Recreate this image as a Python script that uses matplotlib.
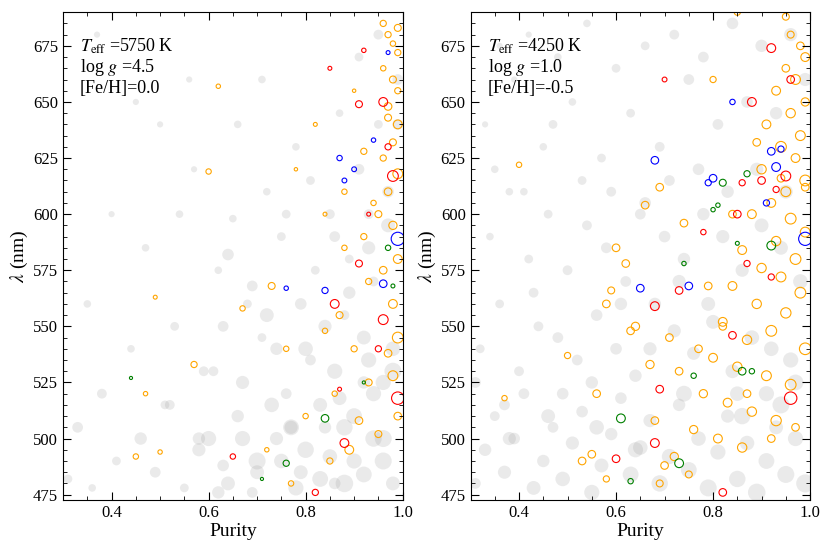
import matplotlib.pyplot as plt

plt.rcParams['font.family'] = ['Liberation Serif', 'DejaVu Serif']
plt.rcParams['mathtext.fontset'] = 'stix'

XLIM = (0.3, 1.0)
YLIM = (472.5, 690)
LABELS = [r'$T_{\rm eff}$ =5750 K' + '\n' + r'log $g$ =4.5' + '\n' + '[Fe/H]=0.0',
          r'$T_{\rm eff}$ =4250 K' + '\n' + r'log $g$ =1.0' + '\n' + '[Fe/H]=-0.5']

# background (gray) lines: purity, wavelength, marker size
gray1_x = [0.31, 0.33, 0.36, 0.38, 0.41, 0.44, 0.46, 0.49, 0.52, 0.55, 0.58, 0.61, 0.63, 0.66, 0.69, 0.71,
           0.74, 0.76, 0.79, 0.81, 0.84, 0.86, 0.88, 0.90, 0.92, 0.94, 0.96, 0.98, 0.35, 0.40, 0.47, 0.53,
           0.57, 0.62, 0.65, 0.68, 0.72, 0.75, 0.78, 0.82, 0.85, 0.87, 0.89, 0.91, 0.93, 0.95, 0.97, 0.99,
           0.60, 0.64, 0.67, 0.70, 0.73, 0.77, 0.80, 0.83, 0.86, 0.88, 0.90, 0.92, 0.94, 0.96, 0.98, 0.43,
           0.50, 0.56, 0.59, 0.63, 0.69, 0.74, 0.79, 0.84, 0.89, 0.93, 0.97, 0.37, 0.45, 0.54, 0.66, 0.71,
           0.76, 0.81, 0.86, 0.91, 0.95, 0.99, 0.62, 0.70, 0.78, 0.85, 0.92, 0.96, 0.58, 0.67, 0.75, 0.83,
           0.88, 0.94, 0.98, 0.72, 0.80, 0.87, 0.93, 0.51, 0.64, 0.77]
gray1_y = [482, 505, 478, 520, 490, 540, 500, 485, 515, 478, 495, 530, 488, 510, 476, 545,
           500, 520, 485, 535, 505, 480, 555, 490, 525, 570, 500, 480, 560, 600, 585, 550,
           620, 575, 598, 560, 610, 590, 630, 575, 600, 645, 580, 620, 600, 640, 610, 660,
           500, 480, 525, 490, 515, 505, 495, 515, 530, 480, 510, 545, 500, 525, 540, 470,
           640, 660, 530, 550, 568, 540, 560, 550, 565, 585, 595, 680, 650, 600, 640, 660,
           600, 615, 590, 670, 680, 640, 476, 485, 478, 492, 484, 490, 500, 500, 490, 482,
           505, 520, 530, 555, 540, 518, 535, 515, 582, 505]
gray1_s = [40, 60, 30, 50, 40, 30, 80, 60, 50, 40, 90, 50, 70, 80, 60, 40,
           90, 60, 100, 60, 80, 70, 50, 120, 80, 50, 150, 100, 30, 20, 30, 40,
           20, 30, 30, 40, 30, 40, 30, 40, 50, 30, 40, 60, 50, 40, 70, 60,
           120, 100, 90, 150, 110, 130, 140, 100, 120, 160, 130, 100, 140, 120, 110, 30,
           20, 20, 50, 60, 60, 80, 70, 90, 80, 90, 100, 20, 20, 30, 30, 30,
           40, 40, 60, 40, 50, 60, 80, 100, 120, 110, 130, 150, 80, 120, 110, 130,
           140, 120, 150, 100, 110, 100, 120, 40, 70, 90]

gray2_x = [0.31, 0.33, 0.35, 0.37, 0.39, 0.41, 0.43, 0.45, 0.47, 0.49, 0.51, 0.53, 0.55, 0.57, 0.59, 0.61,
           0.63, 0.65, 0.67, 0.69, 0.71, 0.73, 0.75, 0.77, 0.79, 0.81, 0.83, 0.85, 0.87, 0.89, 0.91, 0.93,
           0.95, 0.97, 0.99, 0.32, 0.36, 0.40, 0.44, 0.48, 0.52, 0.56, 0.60, 0.64, 0.68, 0.72, 0.76, 0.80,
           0.84, 0.88, 0.92, 0.96, 0.34, 0.38, 0.42, 0.46, 0.50, 0.54, 0.58, 0.62, 0.66, 0.70, 0.74, 0.78,
           0.82, 0.86, 0.90, 0.94, 0.98, 0.33, 0.39, 0.45, 0.51, 0.57, 0.63, 0.69, 0.75, 0.81, 0.87, 0.93,
           0.99, 0.36, 0.42, 0.48, 0.54, 0.60, 0.66, 0.72, 0.78, 0.84, 0.90, 0.96, 0.31, 0.37, 0.43, 0.49,
           0.55, 0.61, 0.67, 0.73, 0.79, 0.85, 0.91, 0.97, 0.35, 0.41, 0.47, 0.53, 0.59, 0.65, 0.71, 0.77,
           0.83, 0.89, 0.95, 0.38, 0.46, 0.56, 0.64, 0.74, 0.86, 0.94]
gray2_y = [480, 495, 510, 485, 500, 520, 478, 490, 505, 482, 498, 512, 476, 488, 502, 518,
           484, 496, 508, 480, 492, 515, 486, 500, 478, 494, 510, 482, 498, 476, 490, 505,
           484, 500, 480, 540, 560, 530, 550, 545, 535, 555, 540, 528, 560, 548, 538, 552,
           530, 545, 540, 535, 590, 610, 580, 600, 575, 595, 585, 570, 605, 590, 580, 600,
           590, 575, 595, 585, 570, 640, 660, 630, 650, 625, 645, 630, 660, 640, 650, 645,
           660, 675, 680, 670, 685, 665, 675, 680, 670, 685, 675, 680, 525, 515, 565, 520,
           525, 560, 540, 570, 560, 520, 520, 525, 620, 610, 640, 615, 610, 600, 615, 620,
           610, 620, 610, 500, 510, 505, 495, 520, 510, 515]
gray2_s = [60, 80, 50, 90, 70, 60, 100, 80, 60, 110, 90, 70, 120, 100, 80, 70,
           130, 110, 90, 140, 120, 80, 130, 110, 150, 120, 90, 140, 110, 160, 130, 100,
           150, 120, 170, 40, 40, 50, 50, 60, 60, 70, 70, 80, 80, 90, 90, 100,
           100, 110, 110, 120, 30, 30, 40, 40, 50, 50, 60, 60, 70, 70, 80, 80,
           90, 90, 100, 100, 110, 20, 20, 30, 30, 40, 40, 50, 60, 60, 70, 80,
           90, 20, 20, 30, 30, 40, 40, 50, 60, 70, 80, 90, 60, 60, 50, 70,
           80, 80, 90, 90, 100, 110, 120, 130, 30, 30, 40, 40, 50, 60, 60, 70,
           80, 90, 100, 90, 100, 110, 120, 130, 140, 150]

# highlighted lines per colour: purity, wavelength, marker size
orange1_x = [0.97, 0.98, 0.99, 0.96, 0.98, 0.99, 0.97, 0.99, 0.98, 0.96, 0.99, 0.97, 0.95, 0.98, 0.92, 0.88,
             0.99, 0.96, 0.93, 0.98, 0.87, 0.99, 0.97, 0.90, 0.84, 0.98, 0.93, 0.86, 0.99, 0.91, 0.95, 0.89,
             0.85, 0.77, 0.76, 0.73, 0.67, 0.57, 0.47, 0.45, 0.50, 0.60, 0.62, 0.49, 0.80, 0.72, 0.88, 0.78,
             0.84, 0.82, 0.90, 0.96, 0.99, 0.94, 0.97, 0.92]
orange1_y = [680, 676, 672, 665, 660, 655, 648, 640, 632, 625, 618, 610, 600, 595, 590, 585,
             580, 575, 570, 560, 555, 545, 538, 540, 548, 528, 525, 520, 510, 508, 502, 495,
             490, 480, 540, 568, 558, 533, 520, 492, 494, 619, 657, 563, 510, 495, 610, 620,
             600, 640, 655, 685, 683, 605, 643, 628]
orange1_s = [20, 15, 20, 15, 25, 20, 30, 40, 25, 20, 50, 30, 25, 35, 20, 15,
             40, 30, 20, 40, 25, 60, 30, 20, 15, 50, 25, 15, 30, 30, 25, 40,
             20, 15, 15, 25, 15, 20, 10, 15, 10, 15, 10, 8, 15, 10, 15, 6,
             8, 8, 6, 20, 25, 15, 25, 20]
red1_x = [0.91, 0.96, 0.98, 0.92, 0.86, 0.96, 0.99, 0.88, 0.82, 0.65, 0.91, 0.95, 0.87, 0.93, 0.85, 0.97]
red1_y = [649, 650, 617, 673, 560, 553, 518, 498, 476, 492, 578, 540, 522, 600, 665, 630]
red1_s = [25, 40, 60, 10, 40, 50, 80, 40, 20, 15, 25, 20, 8, 8, 8, 20]
blue1_x = [0.99, 0.96, 0.84, 0.76, 0.87, 0.90, 0.94, 0.97, 0.88]
blue1_y = [589, 569, 566, 567, 625, 620, 633, 672, 615]
blue1_s = [90, 30, 20, 10, 15, 12, 10, 8, 12]
green1_x = [0.84, 0.76, 0.97, 0.44, 0.92, 0.71, 0.98]
green1_y = [509, 489, 585, 527, 525, 482, 568]
green1_s = [30, 20, 15, 5, 5, 5, 8]

orange2_x = [0.96, 0.98, 0.99, 0.95, 0.97, 0.93, 0.99, 0.96, 0.91, 0.98, 0.94, 0.97, 0.90, 0.99, 0.95, 0.92,
             0.88, 0.96, 0.99, 0.93, 0.86, 0.97, 0.90, 0.94, 0.84, 0.98, 0.89, 0.95, 0.82, 0.92, 0.87, 0.99,
             0.80, 0.85, 0.91, 0.96, 0.78, 0.83, 0.88, 0.93, 0.76, 0.81, 0.86, 0.72, 0.70, 0.67, 0.64, 0.62,
             0.60, 0.58, 0.56, 0.55, 0.53, 0.66, 0.69, 0.74, 0.79, 0.84, 0.89, 0.94, 0.99, 0.71, 0.77, 0.82,
             0.87, 0.92, 0.97, 0.40, 0.37, 0.50, 0.59, 0.63, 0.68, 0.73, 0.58, 0.69, 0.75, 0.80, 0.85, 0.95]
orange2_y = [680, 675, 670, 665, 660, 655, 650, 645, 640, 635, 630, 625, 620, 615, 610, 605,
             600, 598, 592, 588, 584, 580, 576, 572, 568, 565, 560, 556, 552, 548, 544, 540,
             536, 532, 528, 524, 520, 516, 512, 508, 504, 500, 496, 492, 488, 533, 550, 578,
             585, 560, 520, 493, 490, 604, 612, 596, 568, 600, 632, 616, 612, 545, 540, 550,
             520, 500, 505, 622, 518, 537, 566, 548, 508, 530, 482, 480, 484, 660, 690, 688]
orange2_s = [25, 30, 40, 30, 50, 40, 35, 45, 40, 50, 60, 40, 45, 60, 50, 40,
             40, 60, 50, 45, 40, 60, 45, 50, 40, 60, 45, 55, 40, 60, 45, 70,
             40, 45, 50, 60, 35, 40, 45, 55, 35, 40, 45, 35, 30, 35, 35, 30,
             30, 30, 30, 30, 30, 30, 30, 30, 30, 30, 30, 30, 30, 30, 30, 30,
             30, 30, 30, 15, 15, 20, 25, 30, 30, 30, 20, 25, 25, 20, 20, 25]
red2_x = [0.92, 0.96, 0.88, 0.95, 0.90, 0.85, 0.87, 0.92, 0.68, 0.84, 0.73, 0.69, 0.60, 0.68, 0.82, 0.96, 0.78, 0.70, 0.93, 0.86]
red2_y = [674, 660, 650, 617, 615, 600, 578, 572, 559, 546, 566, 522, 491, 498, 476, 518, 592, 660, 611, 614]
red2_s = [40, 30, 40, 50, 30, 30, 20, 20, 40, 30, 30, 30, 30, 40, 30, 80, 15, 12, 20, 20]
blue2_x = [0.99, 0.93, 0.92, 0.80, 0.79, 0.68, 0.65, 0.75, 0.84, 0.91, 0.94]
blue2_y = [589, 621, 628, 616, 614, 624, 567, 568, 650, 605, 629]
blue2_s = [90, 40, 30, 30, 20, 30, 30, 30, 15, 20, 20]
green2_x = [0.92, 0.86, 0.61, 0.73, 0.82, 0.87, 0.76, 0.88, 0.80, 0.81, 0.74, 0.63, 0.85]
green2_y = [586, 530, 509, 489, 614, 618, 528, 530, 602, 604, 578, 481, 587]
green2_s = [40, 30, 40, 40, 25, 20, 15, 15, 10, 10, 10, 15, 8]

PANELS = [
    (gray1_x, gray1_y, gray1_s,
     [(orange1_x, orange1_y, orange1_s, 'orange'), (red1_x, red1_y, red1_s, 'red'),
      (blue1_x, blue1_y, blue1_s, 'blue'), (green1_x, green1_y, green1_s, 'green')]),
    (gray2_x, gray2_y, gray2_s,
     [(orange2_x, orange2_y, orange2_s, 'orange'), (red2_x, red2_y, red2_s, 'red'),
      (blue2_x, blue2_y, blue2_s, 'blue'), (green2_x, green2_y, green2_s, 'green')]),
]

fig, axes = plt.subplots(1, 2, figsize=(8.3, 5.54), dpi=100)
fig.subplots_adjust(left=0.076, right=0.976, top=0.978, bottom=0.097, wspace=0.2)

for ax, (gx, gy, gs, groups), label in zip(axes, PANELS, LABELS):
    ax.scatter(gx, gy, s=gs, color='0.6', alpha=0.2, edgecolors='none')
    for x, y, s, c in groups:
        ax.scatter(x, y, s=s, facecolors='none', edgecolors=c, linewidths=0.8)
    ax.set_xlim(XLIM)
    ax.set_ylim(YLIM)
    ax.set_xticks([0.4, 0.6, 0.8, 1.0])
    ax.set_yticks(range(475, 676, 25))
    ax.minorticks_on()
    ax.tick_params(which='both', direction='in', top=True, right=True, labelsize=12)
    ax.tick_params(which='major', length=6)
    ax.tick_params(which='minor', length=3)
    ax.set_xlabel('Purity', fontsize=14, labelpad=1)
    ax.set_ylabel(r'$\lambda$ (nm)', fontsize=14, labelpad=2)
    ax.text(0.05, 0.95, label, transform=ax.transAxes, va='top', ha='left',
            fontsize=13, linespacing=1.1)

fig.savefig('out.png', dpi=100)
